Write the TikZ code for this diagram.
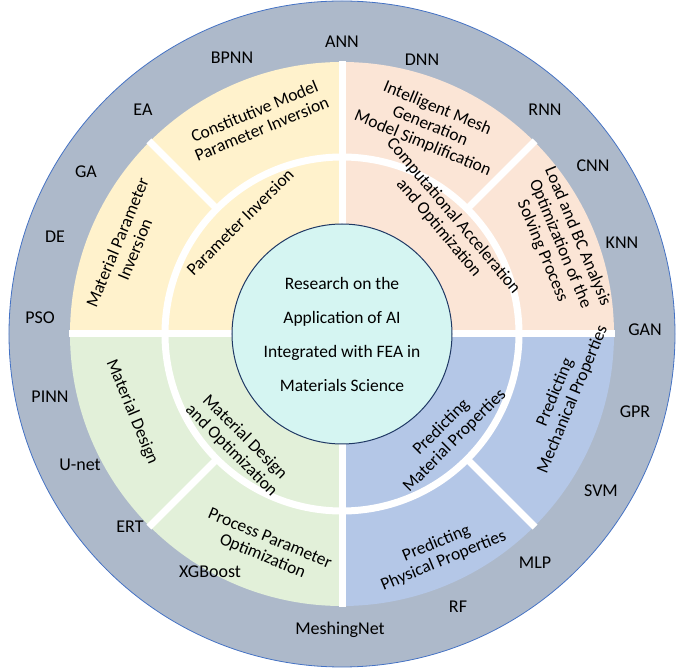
\documentclass[tikz,border=0pt]{standalone}
\usepackage{fontspec}
\setmainfont{Carlito}
\definecolor{ringc}{HTML}{ADB9CA}
\definecolor{yel}{HTML}{FFF2CC}
\definecolor{pea}{HTML}{FBE5D6}
\definecolor{grn}{HTML}{E2F0D9}
\definecolor{blu}{HTML}{B4C7E7}
\definecolor{cen}{HTML}{D5F5F2}
\definecolor{edge}{HTML}{4472C4}
\definecolor{dk}{HTML}{1F3864}
\begin{document}
\begin{tikzpicture}[x=1pt,y=1pt,
  lab/.style={font=\fontsize{18}{20}\selectfont,text=black,inner sep=0pt},
  sec/.style={font=\fontsize{17.5}{19}\selectfont,align=center,inner sep=0pt},
  wl/.style={white,line width=7pt}]
\useasboundingbox (-342,-334) rectangle (343,334);
\fill[ringc] (0,0) circle (333);
\draw[edge,line width=0.8pt] (0,0) circle (333);
\fill[pea] (0,0) -- (0:272) arc (0:90:272) -- cycle;
\fill[yel] (0,0) -- (90:272) arc (90:180:272) -- cycle;
\fill[grn] (0,0) -- (180:272) arc (180:270:272) -- cycle;
\fill[blu] (0,0) -- (270:272) arc (270:360:272) -- cycle;
\draw[wl] (0,0) circle (177);
\foreach \a in {0,90,180,270} \draw[wl] (\a:100) -- (\a:273);
\foreach \a in {45,135,225,315} \draw[wl] (\a:177) -- (\a:273);
\node[circle,fill=cen,draw=dk,line width=1pt,minimum size=220pt,inner sep=0pt] (c) at (0,0) {};
\node[sec,font=\fontsize{17.5}{34}\selectfont] (ct) at (0,0) {Research on the\\Application of AI\\Integrated with FEA in\\Materials Science};
% sector texts
\node[sec,rotate=22.5] (s1) at (-84,214) {Constitutive Model\\Parameter Inversion};
\node[sec,rotate=67.5] (s2) at (-216,88) {Material Parameter\\Inversion};
\node[sec,rotate=45] (s3) at (-102,112) {Parameter Inversion};
\node[sec,rotate=-22.5] (s4) at (88,208) {Intelligent Mesh\\Generation\\Model Simplification};
\node[sec,rotate=-67.5] (s5) at (218,90) {Load and BC Analysis\\Optimization of the\\Solving Process};
\node[sec,rotate=-50] (s6) at (104,112) {Computational Acceleration\\and Optimization};
\node[sec,rotate=-67.5] (s7) at (-210,-78) {Material Design};
\node[sec,rotate=-45] (s8) at (-104,-110) {Material Design\\and Optimization};
\node[sec,rotate=-22.5] (s9) at (-76,-214) {Process Parameter\\Optimization};
\node[sec,rotate=45] (s10) at (106,-100) {Predicting\\Material Properties};
\node[sec,rotate=67.5] (s11) at (222,-62) {Predicting\\Mechanical Properties};
\node[sec,rotate=22.5] (s12) at (98,-218) {Predicting\\Physical Properties};
% outer labels
\node[lab] (l1) at (0,292) {ANN};
\node[lab] (l2) at (80,274) {DNN};
\node[lab] (l3) at (-110,276) {BPNN};
\node[lab] (l4) at (-199,224) {EA};
\node[lab] (l5) at (-256,162) {GA};
\node[lab] (l6) at (-287,97) {DE};
\node[lab] (l7) at (-302,16) {PSO};
\node[lab] (l8) at (-292,-63) {PINN};
\node[lab] (l9) at (-262,-131) {U-net};
\node[lab] (l10) at (-212,-193) {ERT};
\node[lab] (l11) at (-132,-238) {XGBoost};
\node[lab] (l12) at (-2,-296) {MeshingNet};
\node[lab] (l13) at (116,-273) {RF};
\node[lab] (l14) at (193,-229) {MLP};
\node[lab] (l15) at (259,-157) {SVM};
\node[lab] (l16) at (293,-78) {GPR};
\node[lab] (l17) at (303,4) {GAN};
\node[lab] (l18) at (280,91) {KNN};
\node[lab] (l19) at (251,168) {CNN};
\node[lab] (l20) at (203,224) {RNN};
\end{tikzpicture}
\end{document}
